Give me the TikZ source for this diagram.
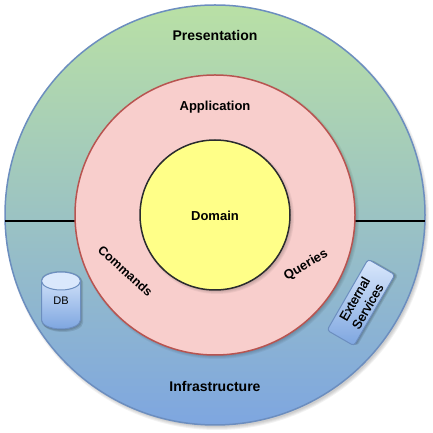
\documentclass[tikz,border=0pt]{standalone}
\usepackage{fontspec}
\setmainfont{Liberation Sans}
\newfontfamily\medfont[FakeBold=0.8]{Liberation Sans}
\definecolor{greenTop}{HTML}{B9E0A5}
\definecolor{blueBot}{HTML}{7EA6E0}
\definecolor{outerLine}{HTML}{6C8EBF}
\definecolor{midFill}{HTML}{F8CECC}
\definecolor{midLine}{HTML}{B85450}
\definecolor{coreFill}{HTML}{FFFF88}
\definecolor{coreLine}{HTML}{2A2C2E}
\definecolor{svcTop}{HTML}{DAE8FC}
\tikzset{
  ring/.style={circle,inner sep=0pt,line width=1.5pt},
  softshadow/.style={fill=black,opacity=0.05,draw=none},
  lbl/.style={font=\fontsize{13}{15}\selectfont\bfseries,text=black,inner sep=0pt},
  biglbl/.style={font=\fontsize{14}{16}\selectfont\bfseries,text=black,inner sep=0pt},
  small/.style={font=\fontsize{11}{13}\selectfont,text=black,inner sep=0pt,align=center},
  svctext/.style={font=\fontsize{13}{15}\selectfont\medfont,text=black,inner sep=0pt,align=center},
  divider/.style={line width=1.5pt,black},
  svcshape/.style={draw=outerLine,line width=1pt,top color=svcTop,bottom color=blueBot,rounded corners=3pt}
}
\begin{document}
\begin{tikzpicture}[x=1pt,y=1pt]
\useasboundingbox (0,0) rectangle (432,433);
\fill[white] (0,0) rectangle (432,433);
% soft shadows
\foreach \r in {209,210,211,212}{\fill[softshadow] (217,215) circle (\r);}
% outer circle
\node[ring,draw=outerLine,minimum size=420pt,top color=greenTop,bottom color=blueBot] (outer) at (215,218) {};
% dividers
\coordinate (dl1) at (5,212);
\coordinate (dl2) at (75,212);
\coordinate (dr1) at (355,212);
\coordinate (dr2) at (425,212);
\draw[divider] (dl1) -- (dl2);
\draw[divider] (dr1) -- (dr2);
% middle
\foreach \r in {139,140,141,142}{\fill[softshadow] (217,216) circle (\r);}
\node[ring,draw=midLine,minimum size=280pt,fill=midFill] (middle) at (215,218) {};
% core
\foreach \r in {74,75,76,77}{\fill[softshadow] (217,216) circle (\r);}
\node[ring,draw=coreLine,minimum size=150pt,fill=coreFill] (core) at (215,218) {};
% DB cylinder
\foreach \d in {1,2,3}{\fill[softshadow,opacity=0.1] (41+\d-1,113-\d) -- ++(0,41) arc[start angle=180,end angle=0,x radius=20,y radius=9] -- ++(0,-41) arc[start angle=0,end angle=-180,x radius=20,y radius=9] -- cycle;}
\path[draw=outerLine,line width=1pt,top color=svcTop,bottom color=blueBot]
  (41.5,152) -- (41.5,113) arc[start angle=180,end angle=360,x radius=19.5,y radius=9] -- (80.5,152) arc[start angle=0,end angle=180,x radius=19.5,y radius=9] -- cycle;
\draw[outerLine,line width=1pt,fill=svcTop] (41.5,152) arc[start angle=180,end angle=540,x radius=19.5,y radius=9];
\node[small] (db) at (61,132) {DB};
% external services
\begin{scope}[shift={(361,130.5)},rotate=60]
\foreach \d in {1,2,3}{\fill[softshadow,opacity=0.1,rounded corners=3pt] (-41+\d*0.5,-15.5-\d) rectangle (41+\d*0.5,15.5-\d);}
\end{scope}
\node[svcshape,rotate=60,minimum width=82pt,minimum height=31pt,inner sep=0pt] (services) at (361,130.5) {};
\node[svctext,rotate=60] (servicestext) at (services.center) {External\\Services};
% labels
\node[biglbl] (presentation) at (215,397) {Presentation};
\node[lbl] (application) at (215,326) {Application};
\node[lbl] (domain) at (215,217) {Domain};
\node[biglbl] (infrastructure) at (215,47) {Infrastructure};
\node[lbl,font=\fontsize{12.5}{15}\selectfont\bfseries,rotate=-42] (commands) at (125.5,162) {Commands};
\node[lbl,rotate=30] (queries) at (306,168) {Queries};
\end{tikzpicture}
\end{document}
